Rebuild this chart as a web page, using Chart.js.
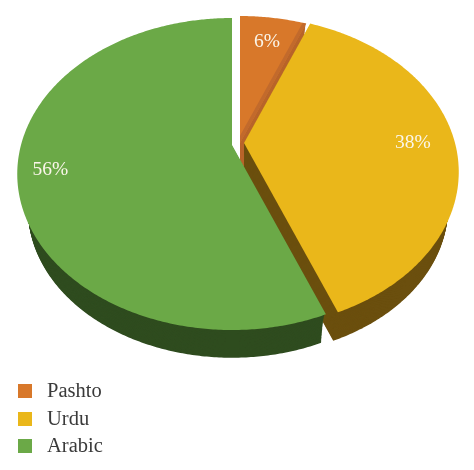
<!DOCTYPE html>
<html>
<head>
<meta charset="utf-8">
<title>Languages</title>
<script src="https://cdn.jsdelivr.net/npm/chart.js@4/dist/chart.umd.min.js"></script>
<style>
    html, body { margin: 0; padding: 0; background: #fff; }
    #wrap { position: relative; width: 474px; height: 470px; overflow: hidden; }
    #legend { position: absolute; left: 18px; top: 377px; font: 20.5px "Liberation Serif", serif; color: #3a3a3a; }
    #legend div { height: 27.5px; line-height: 27.5px; white-space: nowrap; }
    #legend i { display: inline-block; width: 14px; height: 14px; margin-right: 15px; vertical-align: -1px; }
</style>
</head>
<body>
<div id="wrap">
    <canvas id="pie" width="474" height="470"></canvas>
    <div id="legend"></div>
</div>
<script>
(function() {
    'use strict';

    var labels = ['Pashto', 'Urdu', 'Arabic'];
    var values = [6, 38, 56];

    var colors = ['#d8782a', '#eab71a', '#6ba947'];
    var sideColors = ['#b8642a', '#6b4f0e', '#2f4c1f'];

    // look of the tilted disc: where each slice's tip sits, disc size, perspective
    var tips = [[240, 143], [244, 143], [232, 145]];
    var labelRadius = [0.78, 0.8, 0.85];
    var discX = 211, discY = 150.6, persp = 0.186;
    var depth = 37, bottomScale = 0.95;

    function project(tip, angle, r, scale, drop) {
        var u = Math.cos(angle) * r,
            v = Math.sin(angle) * r,
            w = 1 - persp * v;
        return [
            tip[0] + scale * discX * u / w,
            tip[1] + drop + scale * discY * v / w
        ];
    }

    function slicePath(ctx, arc, tip, scale, drop) {
        var steps = Math.ceil((arc.endAngle - arc.startAngle) / 0.01), p;

        ctx.beginPath();
        ctx.moveTo(tip[0], tip[1] + drop);
        for (var i = 0; i <= steps; i++) {
            p = project(tip, arc.startAngle + (arc.endAngle - arc.startAngle) * i / steps, 1, scale, drop);
            ctx.lineTo(p[0], p[1]);
        }
        ctx.closePath();
    }

    var tiltedPie = {
        id: 'tiltedPie',
        beforeDatasetsDraw: function(chart) {
            var ctx = chart.ctx,
                arcs = chart.getDatasetMeta(0).data;

            ctx.save();
            arcs.forEach(function(arc, i) {
                // side wall, swept from the bottom face up to the top face
                ctx.fillStyle = sideColors[i];
                for (var t = 40; t > 0; t--) {
                    slicePath(ctx, arc, tips[i], 1 - (1 - bottomScale) * Math.sqrt(t / 40), depth * t / 40);
                    ctx.fill();
                }
                slicePath(ctx, arc, tips[i], 1, 0);
                ctx.fillStyle = colors[i];
                ctx.fill();
            });

            // darker bevel along the right edge of the small slice
            var first = arcs[0], end = project(tips[0], first.endAngle, 1, 1, 0);
            ctx.save();
            slicePath(ctx, first, tips[0], 1, 0);
            ctx.clip();
            ctx.strokeStyle = '#c26a2c';
            ctx.lineWidth = 7;
            ctx.beginPath();
            ctx.moveTo(tips[0][0], tips[0][1]);
            ctx.lineTo(end[0], end[1]);
            ctx.stroke();
            ctx.restore();

            // percent labels
            ctx.font = '19.5px "Liberation Serif", serif';
            ctx.fillStyle = '#fbf6ea';
            ctx.textAlign = 'center';
            ctx.textBaseline = 'middle';
            arcs.forEach(function(arc, i) {
                var p = project(tips[i], (arc.startAngle + arc.endAngle) / 2, labelRadius[i], 1, 0);
                ctx.fillText(values[i] + '%', p[0], p[1]);
            });
            ctx.restore();

            return false;
        }
    };

    new Chart(document.getElementById('pie'), {
        type: 'pie',
        data: {
            labels: labels,
            datasets: [{ data: values, backgroundColor: colors, borderWidth: 0 }]
        },
        options: {
            responsive: false,
            animation: false,
            plugins: {
                legend: { display: false },
                tooltip: { enabled: false }
            }
        },
        plugins: [tiltedPie]
    });

    var legend = document.getElementById('legend');
    labels.forEach(function(label, i) {
        var row = document.createElement('div'),
            box = document.createElement('i');
        box.style.background = colors[i];
        row.appendChild(box);
        row.appendChild(document.createTextNode(label));
        legend.appendChild(row);
    });
})();
</script>
</body>
</html>
